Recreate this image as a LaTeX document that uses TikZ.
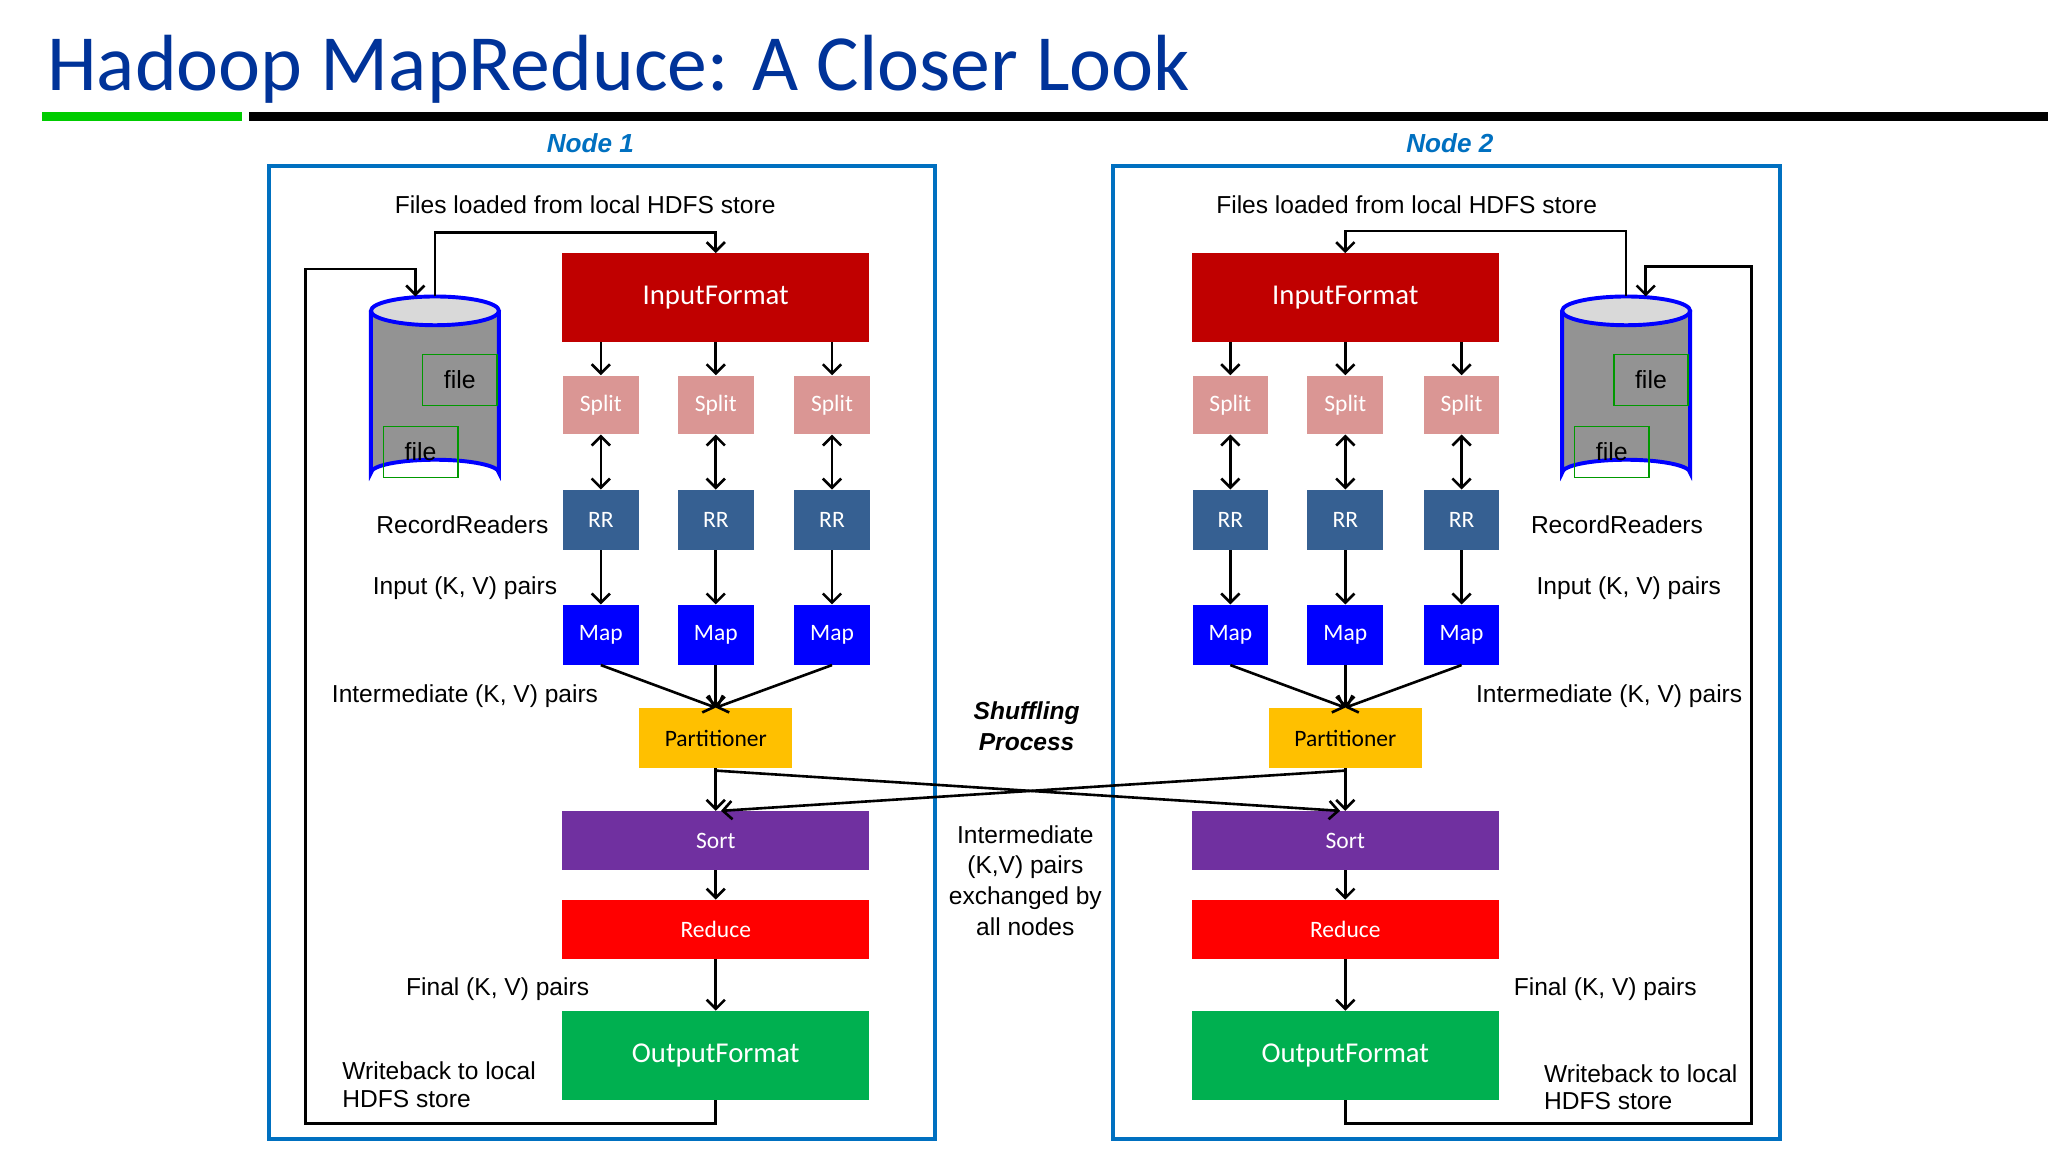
\documentclass[tikz,border=0pt]{standalone}
\usepackage{fontspec}
\setmainfont{Liberation Sans}
\newfontfamily\calf{Carlito}
\usetikzlibrary{arrows.meta,shapes.geometric}
\definecolor{ttl}{RGB}{0,51,153}
\definecolor{nb}{RGB}{0,112,192}
\definecolor{inf}{RGB}{192,0,0}
\definecolor{spl}{RGB}{218,150,148}
\definecolor{rrc}{RGB}{54,96,146}
\definecolor{prt}{RGB}{255,192,0}
\definecolor{srt}{RGB}{112,48,160}
\definecolor{outc}{RGB}{0,176,80}
\begin{document}
\begin{tikzpicture}[x=1pt,y=-1pt,
 blk/.style={draw=none,inner sep=0,font=\calf\fontsize{#1}{#1}\selectfont,text=white},
 blk/.default=18,
 lab/.style={font=\fontsize{18.8}{21}\selectfont,inner sep=0},
 ar/.style={-{Straight Barb[length=7pt,width=14pt]},line width=2pt},
 dar/.style={{Straight Barb[length=7pt,width=14pt]}-{Straight Barb[length=7pt,width=14pt]},line width=2pt},
 ln/.style={line width=2pt},
 nbox/.style={draw=nb,line width=3pt},
 fl/.style={draw=green!60!black,line width=1.2pt,minimum width=57pt,minimum height=39pt,inner sep=0,font=\fontsize{19}{19}\selectfont}]
\useasboundingbox (0,0) rectangle (1568,882);
\fill[white] (0,0) rectangle (1568,882);
\node[anchor=base west,inner sep=0,text=ttl,font=\calf\fontsize{61}{61}\selectfont] (title) at (36,69) {Hadoop MapReduce: A Closer Look};
\fill[green!80!black] (32,86) rectangle (185,93);
\fill[black] (191,86) rectangle (1568,93);
\node[font=\bfseries\itshape\fontsize{20}{20}\selectfont,text=nb] (n1) at (452,110) {Node 1};
\node[font=\bfseries\itshape\fontsize{20}{20}\selectfont,text=nb] (n2) at (1110,110) {Node 2};
\draw[nbox] (206,127) rectangle (716,872);
\draw[nbox] (852,127) rectangle (1363,872);
\foreach \s/\C in {a/548,b/1030}{
 \node[blk=22,fill=inf,minimum width=235pt,minimum height=68pt] (if\s) at (\C,228) {InputFormat};
 \node[blk=22,fill=outc,minimum width=235pt,minimum height=68pt] (of\s) at (\C,808) {OutputFormat};
 \node[blk,fill=srt,minimum width=235pt,minimum height=45pt] (so\s) at (\C,643.5) {Sort};
 \node[blk,fill=red,minimum width=235pt,minimum height=45pt] (re\s) at (\C,711.5) {Reduce};
 \node[blk,text=black,fill=prt,minimum width=117pt,minimum height=46pt] (pa\s) at (\C,565) {Partitioner};
 \foreach \i/\dx in {1/-88,2/0,3/89}{
  \node[blk,fill=spl,minimum width=58pt,minimum height=45pt] (sp\s\i) at (\C+\dx,310) {Split};
  \node[blk,fill=rrc,minimum width=58pt,minimum height=46pt] (rr\s\i) at (\C+\dx,398) {RR};
  \node[blk,fill=blue,minimum width=58pt,minimum height=46pt] (mp\s\i) at (\C+\dx,486) {Map};
  \draw[ar] (if\s.south -| sp\s\i) -- (sp\s\i);
  \draw[dar] (sp\s\i) -- (rr\s\i);
  \draw[ar] (rr\s\i) -- (mp\s\i);
  \draw[ar] (mp\s\i.south) -- (pa\s.north);
 }
 \draw[ar] (so\s) -- (re\s);
 \draw[ar] (re\s) -- (of\s);
}
\coordinate (qa) at (548,590); \coordinate (qb) at (1030,590);
\draw[ln] (paa.south) -- (qa);
\draw[ln] (pab.south) -- (qb);
\draw[ar] (qa) -- (soa.north);
\draw[ar] (qb) -- (sob.north);
\draw[ar] (qa) -- ([xshift=-4pt]sob.north);
\draw[ar] (qb) -- ([xshift=4pt]soa.north);
\foreach \s/\x in {a/333,b/1245}{
 \draw[draw=blue,line width=3pt,fill=gray!85] (\x-49,238) -- (\x-49,362) arc[start angle=180,end angle=360,x radius=49,y radius=10] -- (\x+49,238);
 \draw[draw=blue,line width=3pt,fill=gray!30] (\x,238) ellipse[x radius=49,y radius=11];
 \node[fl] (f1\s) at (\x+19,291) {file};
 \node[fl] (f2\s) at (\x-11,346) {file};
 \coordinate (cy\s) at (\x,227);
}
\draw[ar] (cya) -- (333,178) -| (ifa.north);
\draw[ar] (cyb) -- (1245,177) -| (ifb.north);
\draw[ar] (ofa.south) -- (548,860) -- (234,860) -- (234,206) -- (318,206) -- (318,227);
\draw[ar] (ofb.south) -- (1030,860) -- (1341,860) -- (1341,204) -- (1260,204) -- (1260,227);
\node[lab] (l1) at (448,157) {Files loaded from local HDFS store};
\node[lab] (l2) at (1077,157) {Files loaded from local HDFS store};
\node[lab] (l3) at (354,402) {RecordReaders};
\node[lab] (l4) at (356,450) {Input (K, V) pairs};
\node[lab] (l5) at (356,533) {Intermediate (K, V) pairs};
\node[lab] (l6) at (381,757) {Final (K, V) pairs};
\node[lab,align=left,anchor=north west] (l7) at (262,813) {Writeback to local\\HDFS store};
\node[lab] (m3) at (1238,402) {RecordReaders};
\node[lab] (m4) at (1247,450) {Input (K, V) pairs};
\node[lab] (m5) at (1232,533) {Intermediate (K, V) pairs};
\node[lab] (m6) at (1229,757) {Final (K, V) pairs};
\node[lab,align=left,anchor=north west] (m7) at (1182,815) {Writeback to local\\HDFS store};
\node[lab,align=center,font=\bfseries\itshape\fontsize{18.8}{23}\selectfont] (sh) at (786,556) {Shuffling\\ Process};
\node[lab,align=center,font=\fontsize{18.8}{23.5}\selectfont] (ex) at (785,674) {Intermediate\\(K,V) pairs\\exchanged by\\all nodes};
\end{tikzpicture}
\end{document}
